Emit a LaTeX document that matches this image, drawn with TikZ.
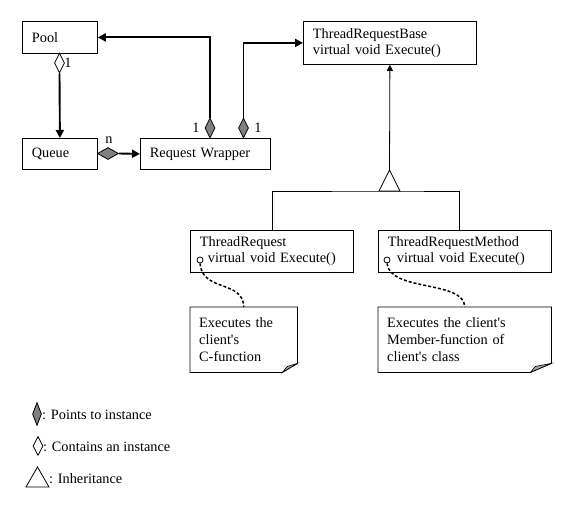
\documentclass[tikz,border=0pt]{standalone}
\usepackage{fontspec}
\setmainfont{Liberation Serif}[Ligatures=TeXOff]
\usetikzlibrary{shapes.geometric, arrows.meta, positioning, calc}
\definecolor{pointfill}{RGB}{128, 128, 128}
\definecolor{foldfill}{RGB}{165, 165, 165}

\tikzset{
    classbox/.style={draw, line width=0.8pt, anchor=north west, align=left, inner xsep=9.5pt, inner ysep=0pt},
    notebox/.style={anchor=north west, align=left, inner xsep=9pt, inner ysep=0pt, font=\fontsize{14.3}{17}\selectfont},
    assoc/.style={line width=1.9pt, -{Triangle[length=8pt, width=8pt]}},
    pointsto/.style={diamond, draw, line width=0.8pt, fill=pointfill, inner sep=0pt},
    contains/.style={diamond, draw, line width=0.8pt, fill=white, inner sep=0pt},
    label/.style={inner sep=0pt},
}

\begin{document}
\begin{tikzpicture}[x=1pt, y=-1pt, font=\fontsize{14.3}{16}\selectfont]
    \useasboundingbox (0, 0) rectangle (563, 508);

    % Classes
    \node[classbox, text width=56pt, minimum height=32pt] (pool) at (22, 21) {Pool};
    \node[classbox, text width=56pt, minimum height=31pt] (queue) at (22, 138) {Queue};
    \node[classbox, text width=111pt, minimum height=31pt] (wrapper) at (140, 138) {Request Wrapper};
    \node[classbox, text width=154pt, minimum height=43pt] (base) at (303, 21) {ThreadRequestBase\\virtual void Execute()};
    \node[classbox, text width=144pt, minimum height=42pt] (request) at (190, 230) {ThreadRequest\\\hspace*{8pt}virtual void Execute()};
    \node[classbox, text width=154pt, minimum height=42pt] (method) at (378, 230) {ThreadRequestMethod\\\hspace*{9pt}virtual void Execute()};

    % Aggregation ends
    \node[contains, minimum width=10pt, minimum height=20pt] (poolend) at (59.5, 63) {};
    \node[pointsto, minimum width=21pt, minimum height=12pt] (queueend) at (108, 153.5) {};
    \node[pointsto, minimum width=10pt, minimum height=20pt] (wrapleft) at (210, 128) {};
    \node[pointsto, minimum width=10pt, minimum height=20pt] (wrapright) at (243.5, 128) {};

    % Multiplicities
    \node[label] (m1) at (68, 63) {1};
    \node[label] (mn) at (109, 140) {n};
    \node[label] (m2) at (196, 128) {1};
    \node[label] (m3) at (258, 128) {1};

    % Associations
    \draw[assoc] (poolend.south) -- (queue.north);
    \draw[assoc] (queueend.east) -- (wrapper.west);
    \draw[assoc] (wrapleft.north) |- (pool.east);
    \draw[assoc] (wrapright.north) |- (base.west);

    % Inheritance
    \coordinate (inhtop) at (389.5, 170);
    \coordinate (inhbase) at (389.5, 191);
    \draw[line width=0.8pt] (inhtop) -- ($(inhbase)+(-10.5, 0)$) -- ($(inhbase)+(10.5, 0)$) -- cycle;
    \draw[line width=0.8pt, -{Triangle[length=6pt, width=6pt]}] (inhtop) -- (base.south);
    \draw[line width=0.8pt] (request.north) |- (inhbase) -| ([xshift=-5.5pt]method.north);

    % Notes
    \node[notebox, text width=89pt, minimum height=65pt] (note1) at (190, 307) {Executes the\\client's\\C-function};
    \node[notebox, text width=155pt, minimum height=65pt] (note2) at (378, 307) {Executes the client's\\Member-function of\\client's class};
    \foreach \n/\fold in {note1/15, note2/21} {
        \draw[line width=0.8pt] (\n.north west) -- (\n.north east) -- ([yshift=9pt]\n.south east)
            -- ([xshift=-\fold pt]\n.south east) -- (\n.south west) -- cycle;
        \filldraw[fill=foldfill, line width=0.6pt] ([xshift=-\fold pt]\n.south east) -- ([yshift=9pt]\n.south east)
            -- ([xshift=-\fold pt+5pt, yshift=6pt]\n.south east) -- cycle;
    }

    % Note links
    \node[circle, draw, line width=0.8pt, minimum size=6pt, inner sep=0pt] (port1) at (200, 260) {};
    \node[circle, draw, line width=0.8pt, minimum size=6pt, inner sep=0pt] (port2) at (387, 260) {};
    \draw[line width=1.5pt, dash pattern=on 3pt off 2pt] (port1.south) .. controls (202, 292) and (243.5, 280) .. (note1.north);
    \draw[line width=1.5pt, dash pattern=on 3pt off 2pt] (port2.south) .. controls (390, 292) and (464.5, 280) .. (note2.north);

    % Legend
    \node[pointsto, minimum width=9pt, minimum height=23pt] (keypoint) at (37, 414) {};
    \node[label, anchor=west] (keypointtext) at (42, 415) {: Points to instance};
    \node[contains, minimum width=10pt, minimum height=19pt] (keycontain) at (38, 446) {};
    \node[label, anchor=west] (keycontaintext) at (43, 447) {: Contains an instance};
    \draw[line width=0.8pt] (26, 487) -- (37.5, 467) -- (49, 487) -- cycle;
    \node[label, anchor=west] (keyinherit) at (49, 479) {: Inheritance};
\end{tikzpicture}
\end{document}
